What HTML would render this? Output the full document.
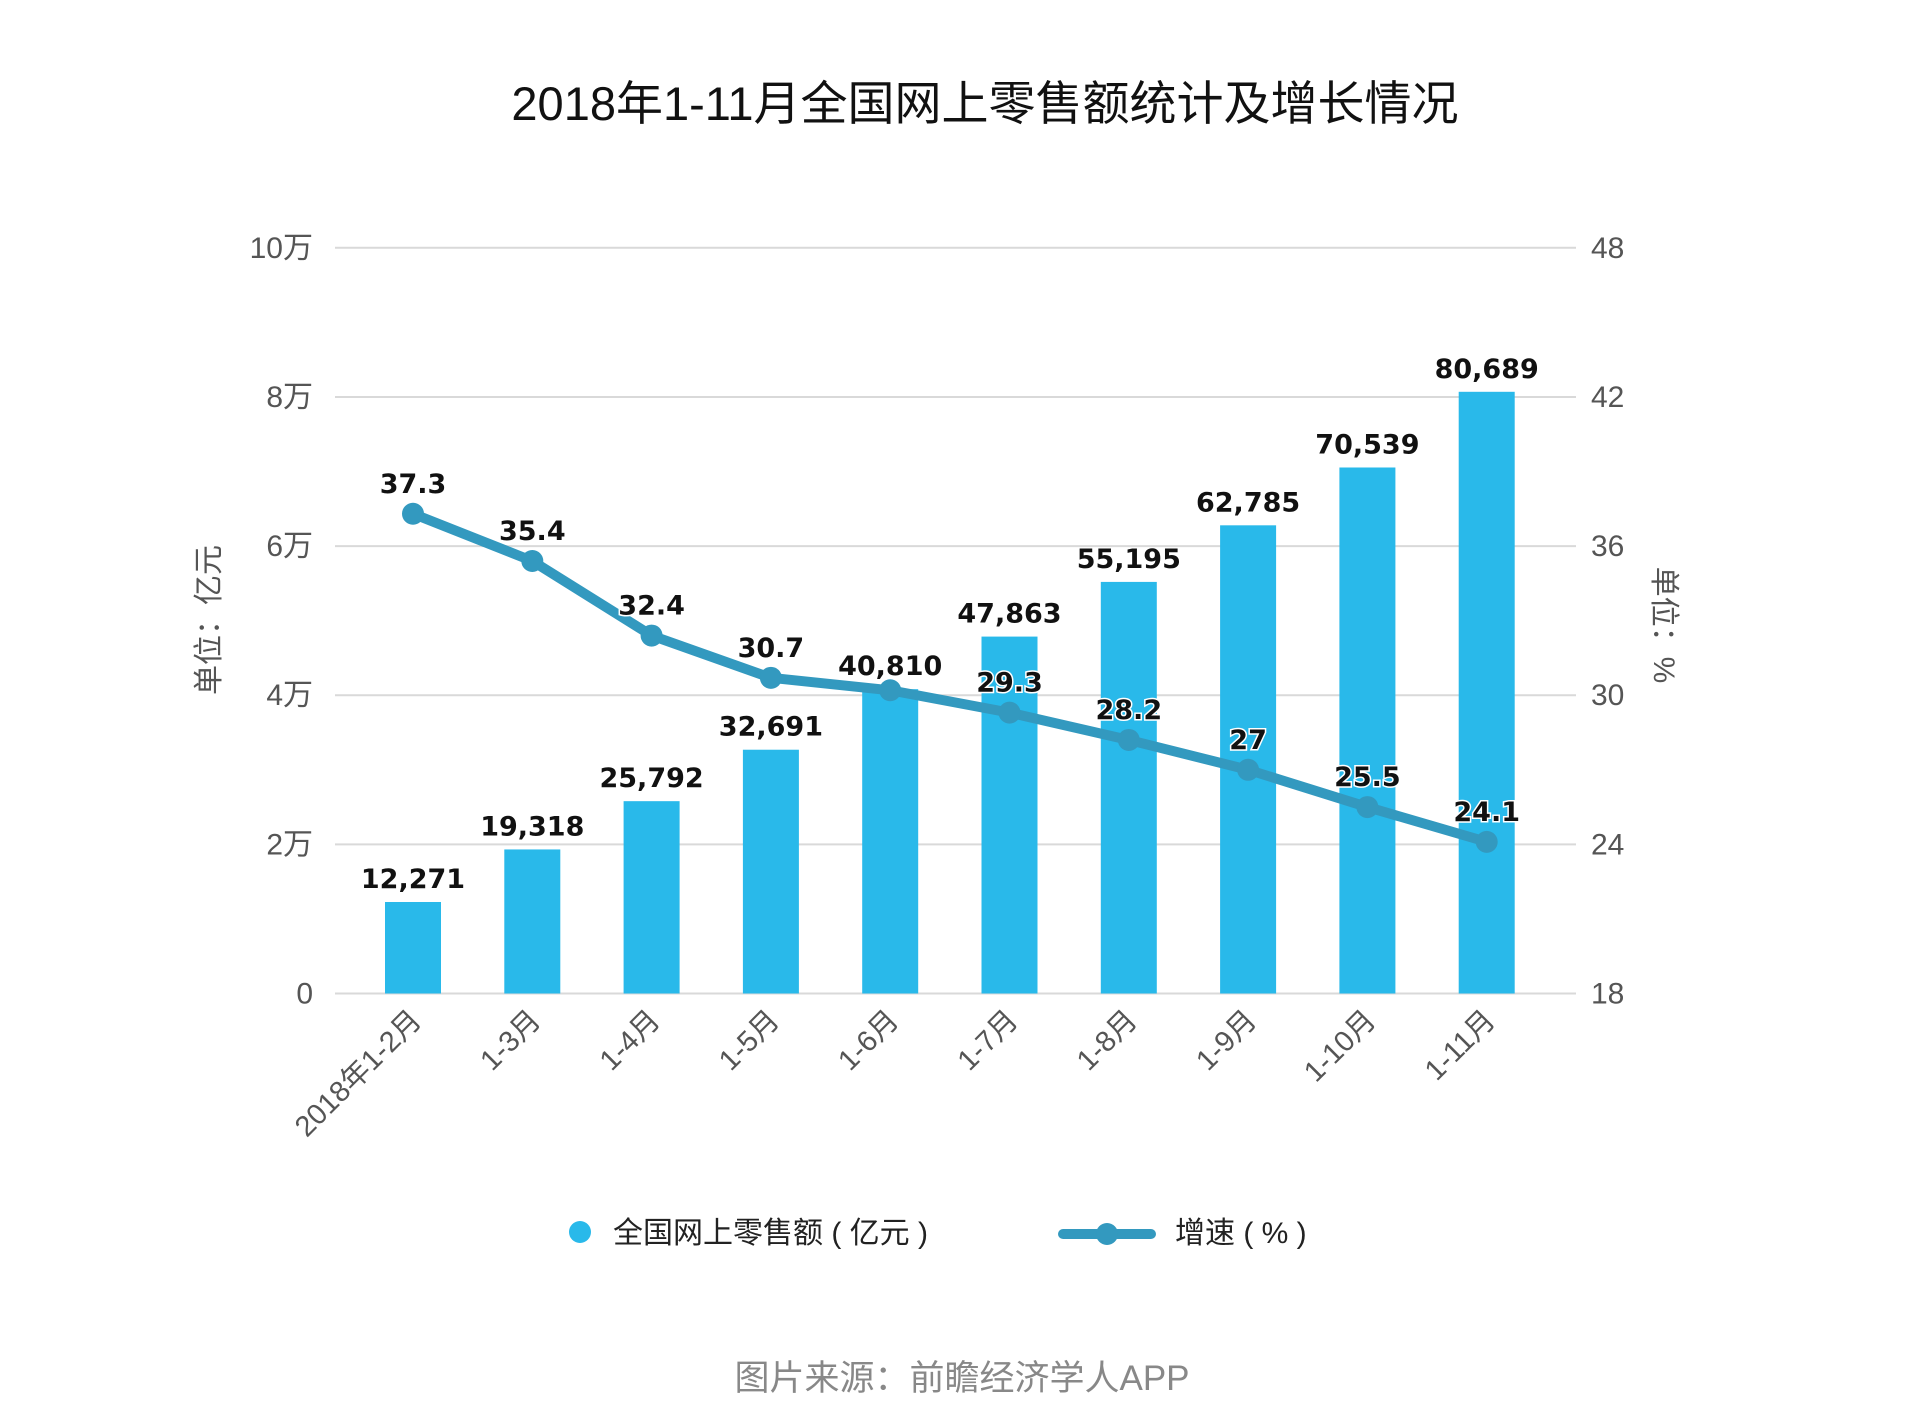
<!DOCTYPE html>
<html><head><meta charset="utf-8">
<style>
html,body{margin:0;padding:0;background:#fff;}
body{width:1920px;height:1418px;overflow:hidden;}
svg text{font-family:"Liberation Sans","Noto Sans CJK SC",sans-serif;}
svg text.val{font-family:"DejaVu Sans",sans-serif;}
</style></head>
<body>
<svg id="chart" width="1920" height="1418" viewBox="0 0 1920 1418" xmlns="http://www.w3.org/2000/svg">
<text x="985" y="120" text-anchor="middle" font-size="47" fill="#111">2018年1-11月全国网上零售额统计及增长情况</text>
<g id="grid"></g><g id="bars"></g><g id="line"></g><g id="labels"></g>
<text transform="translate(219,620) rotate(-90)" text-anchor="middle" font-size="30" fill="#555">单位：亿元</text>
<text transform="translate(1654,625) rotate(90)" text-anchor="middle" font-size="30" fill="#555">单位：%</text>
<g>
<circle cx="580" cy="1232" r="11" fill="#29b9ea"/>
<text x="613" y="1243" font-size="30" fill="#222">全国网上零售额 ( 亿元 )</text>
<line x1="1063" y1="1234" x2="1151" y2="1234" stroke="#3399bf" stroke-width="10" stroke-linecap="round"/>
<circle cx="1107" cy="1234" r="11" fill="#3399bf"/>
<text x="1175" y="1243" font-size="30" fill="#222">增速 ( % )</text>
</g>
<text x="962" y="1390" text-anchor="middle" font-size="35" fill="#888">图片来源：前瞻经济学人APP</text>
</svg>
<script>
const categories=["2018年1-2月","1-3月","1-4月","1-5月","1-6月","1-7月","1-8月","1-9月","1-10月","1-11月"];
const salesValues=[12271,19318,25792,32691,40810,47863,55195,62785,70539,80689];
const growthValues=[37.3,35.4,32.4,30.7,30.2,29.3,28.2,27,25.5,24.1];
const growthLabels=["37.3","35.4","32.4","30.7","","29.3","28.2","27","25.5","24.1"];
const leftTicks=[0,20000,40000,60000,80000,100000];
const leftTickLabels=["0","2万","4万","6万","8万","10万"];
const rightTicks=[18,24,30,36,42,48];
const NS="http://www.w3.org/2000/svg";
const Y0=993.5,H=745.7;
const yL=v=>Y0-v/100000*H;
const yR=v=>Y0-(v-18)/30*H;
const xC=i=>413+i*119.3;
function mk(t,a,p){const e=document.createElementNS(NS,t);for(const k in a)e.setAttribute(k,a[k]);p.appendChild(e);return e;}
const g=document.getElementById('grid'),b=document.getElementById('bars'),l=document.getElementById('line'),lb=document.getElementById('labels');
leftTicks.forEach((v,i)=>{
 const ln=mk('line',{x1:335,x2:1576,y1:yL(v),y2:yL(v),stroke:'#d9d9d9','stroke-width':2},g);
 
 
 const t=mk('text',{x:313,y:yL(v)+10,'text-anchor':'end','font-size':30,fill:'#555'},g);t.textContent=leftTickLabels[i];
 
 
});
rightTicks.forEach(v=>{
 const t=mk('text',{x:1591,y:yR(v)+10,'font-size':30,fill:'#555'},g);t.textContent=v;
 
 
});
categories.forEach((c,i)=>{
 const x=xC(i),y=yL(salesValues[i]);
 const r=mk('rect',{x:x-28,y:y,width:56,height:Y0-y,fill:'#29b9ea'},b);
 
 
 const t=mk('text',{class:'val',x:x,y:y-14,'text-anchor':'middle','font-size':27,'font-weight':'bold',fill:'#111'},lb);
 t.textContent=salesValues[i].toLocaleString('en-US');
 
 
 const xl=mk('text',{transform:`translate(${x+10},${1022}) rotate(-45)`,'text-anchor':'end','font-size':29,fill:'#555'},g);
 xl.textContent=c;
 
 
});
const pts=growthValues.map((v,i)=>xC(i)+','+yR(v)).join(' ');
const pl=mk('polyline',{points:pts,fill:'none',stroke:'#3399bf','stroke-width':10,'stroke-linejoin':'round','stroke-linecap':'round'},l);


growthValues.forEach((v,i)=>{
 const c=mk('circle',{cx:xC(i),cy:yR(v),r:11,fill:'#3399bf'},l);
 
 
 if(growthLabels[i]){
 const t=mk('text',{class:'val',x:xC(i),y:yR(v)-21,'text-anchor':'middle','font-size':27,'font-weight':'bold',fill:'#111',stroke:'#fff','stroke-width':3,'paint-order':'stroke'},lb);
 t.textContent=growthLabels[i];
 
 
 }
});
</script>
</body></html>
